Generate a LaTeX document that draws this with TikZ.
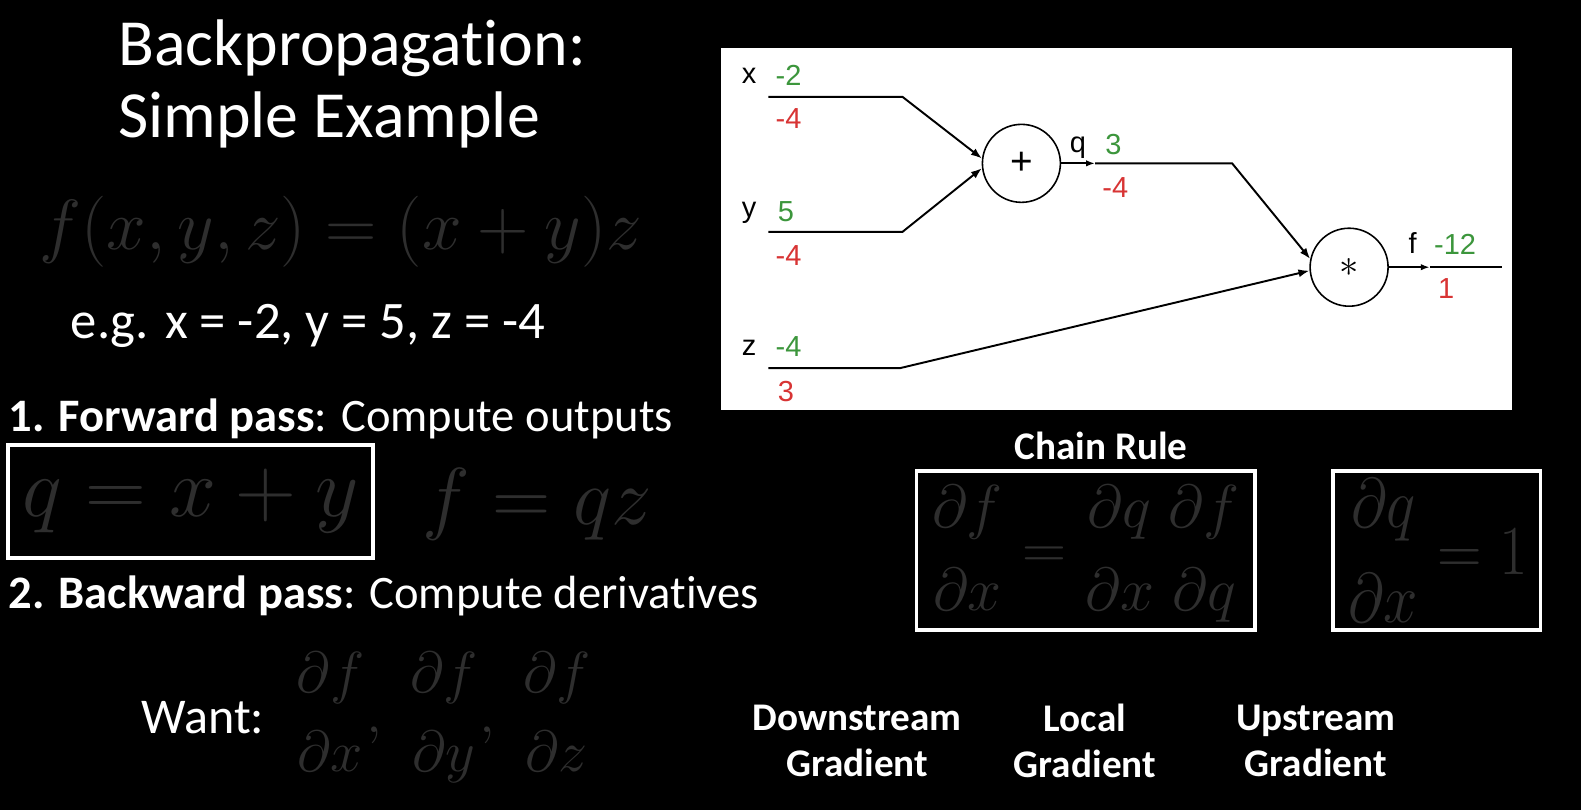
\RequirePackage{fix-cm}
\documentclass[tikz,border=0pt]{standalone}
\usepackage{amsmath}
\usepackage{fontspec}
\setmainfont{Carlito}[Ligatures=NoCommon]
\newfontfamily\graphfont{Liberation Sans}
\usetikzlibrary{arrows.meta,positioning}
\definecolor{MathInk}{HTML}{2E2E2E}
\definecolor{FwdGreen}{HTML}{3C963C}
\definecolor{BwdRed}{HTML}{D83434}
\newcommand{\dfr}[2]{\genfrac{}{}{0pt}{0}{#1}{#2}}

\begin{document}
\begin{tikzpicture}[x=0.020166cm, y=-0.020166cm,
    slidetext/.style={text=white, inner sep=0pt},
    ghost/.style={text=MathInk, inner sep=0pt},
    ghostbox/.style={draw=white, line width=2.2pt, inner sep=0pt},
    opnode/.style={circle, draw=black, fill=white, line width=0.9pt, minimum size=1.56cm, inner sep=0pt, font=\graphfont\fontsize{22}{24}\selectfont},
    wire/.style={draw=black, line width=1.1pt},
    wiretip/.style={-{Latex[length=2.2mm,width=1.6mm]}},
    smalltip/.style={-{Latex[length=1.8mm,width=1.3mm]}},
    varlab/.style={font=\graphfont\fontsize{16.5}{18}\selectfont, inner sep=0pt},
    fwd/.style={varlab, text=FwdGreen, anchor=west},
    bwd/.style={varlab, text=BwdRed, anchor=west},
    gradlab/.style={slidetext, align=center, font=\bfseries\fontsize{22.3}{26.5}\selectfont}]
  \useasboundingbox[fill=black] (0,0) rectangle (1568,803);

  % left column
  \node[slidetext, anchor=base west, font=\fontsize{37.5}{40}\selectfont] (title1) at (117,65) {Backpropagation:};
  \node[slidetext, anchor=base west, font=\fontsize{37.5}{40}\selectfont] (title2) at (117,136) {Simple Example};
  \node[ghost, font=\fontsize{40.5}{48}\selectfont] (func) at (338,230) {$f(x,y,z)=(x+y)z$};
  \node[slidetext, anchor=base west, font=\fontsize{30}{34}\selectfont] (values) at (70,336) {e.g. x = -2, y = 5, z = -4};
  \node[slidetext, anchor=base west, font=\fontsize{26.5}{30}\selectfont] (fwdstep) at (8,428) {\textbf{1. Forward pass}: Compute outputs};
  \node[ghostbox, minimum width=7.3cm, minimum height=2.26cm] (qbox) at (189,497) {};
  \node[ghost, font=\fontsize{48}{56}\selectfont] (qeq) at (qbox.center) {$q=x+y$};
  \node[ghost, font=\fontsize{46}{54}\selectfont] (feq) at (533,500) {$f=qz$};
  \node[slidetext, anchor=base west, font=\fontsize{26.5}{30}\selectfont] (bwdstep) at (8,603) {\textbf{2. Backward pass}: Compute derivatives};
  \node[slidetext, anchor=base west, font=\fontsize{28.5}{32}\selectfont] (want) at (140,727) {Want:};
  \node[ghost, font=\fontsize{33}{40}\selectfont] (wantfrac) at (440,712) {$\dfr{\partial f}{\partial x},\;\dfr{\partial f}{\partial y},\;\dfr{\partial f}{\partial z}$};

  % graph panel
  \fill[white] (715,48) rectangle (1500,407);
  \node[opnode] (plus) at (1013,162) {+};
  \node[opnode] (mul) at (1338,265) {$\ast$};
  \coordinate (xin) at (762,96);
  \coordinate (xbend) at (895,96);
  \coordinate (yin) at (762,230);
  \coordinate (ybend) at (895,230);
  \coordinate (zin) at (762,365);
  \coordinate (zbend) at (893,365);
  \coordinate (qtip) at (1086,162);
  \coordinate (qbend) at (1222,162);
  \coordinate (ftip) at (1418,265);
  \coordinate (fout) at (1490,265);

  \draw[wire, wiretip] (xin) -- (xbend) -- (plus.173);
  \draw[wire, wiretip] (yin) -- (ybend) -- (plus.187);
  \draw[wire, wiretip] (zin) -- (zbend) -- (mul.185);
  \draw[wire, smalltip] (plus) -- (qtip);
  \draw[wire, wiretip] (qtip) -- (qbend) -- (mul.168);
  \draw[wire, smalltip] (mul) -- (ftip);
  \draw[wire] (ftip) -- (fout);

  \node[varlab] (xname) at (743,75) {x};
  \node[fwd] (xval) at (769,75) {-2};
  \node[bwd] (xgrad) at (769,118) {-4};
  \node[varlab] (yname) at (743,211) {y};
  \node[fwd] (yval) at (771,210) {5};
  \node[bwd] (ygrad) at (769,253) {-4};
  \node[varlab] (zname) at (743,345) {z};
  \node[fwd] (zval) at (769,344) {-4};
  \node[bwd] (zgrad) at (771,388) {3};
  \node[varlab] (qname) at (1069,146) {q};
  \node[fwd] (qval) at (1096,143) {3};
  \node[bwd] (qgrad) at (1093,186) {-4};
  \node[varlab] (fname) at (1401,241) {f};
  \node[fwd] (fval) at (1422,242) {-12};
  \node[bwd] (fgrad) at (1426,286) {1};

  % chain rule
  \node[gradlab] (chain) at (1092,442) {Chain Rule};
  \node[ghostbox, minimum width=6.78cm, minimum height=3.17cm] (chainbox) at (1077,546) {};
  \node[ghost, font=\fontsize{32}{38}\selectfont] (chaineq) at ([yshift=-0.06cm]chainbox.center) {\scalebox{1.085}[1.08]{$\dfr{\partial f}{\partial x}=\dfr{\partial q}{\partial x}\,\dfr{\partial f}{\partial q}$}};
  \node[ghostbox, minimum width=4.15cm, minimum height=3.17cm] (localbox) at (1425,546) {};
  \node[ghost, font=\fontsize{32}{38}\selectfont] (localeq) at (localbox.center) {\scalebox{1.1}[1.25]{$\dfr{\partial q}{\partial x}=1$}};
  \node[gradlab] (down) at (850,735) {Downstream\\Gradient};
  \node[gradlab] (local) at (1076,735) {Local\\Gradient};
  \node[gradlab] (up) at (1305,735) {Upstream\\Gradient};
\end{tikzpicture}
\end{document}
